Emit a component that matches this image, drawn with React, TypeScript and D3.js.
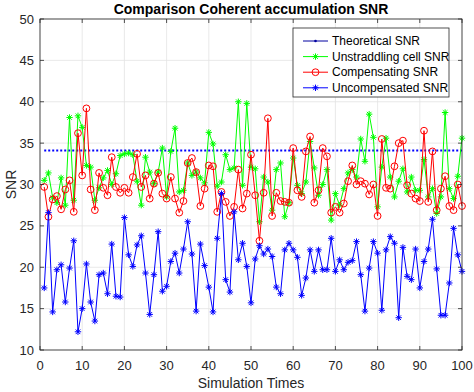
import React from 'react';
import * as d3 from 'd3';

const simulationTimes = d3.range(1, 101);
const theoreticalLevel = 34.1;
const unstraddlingSNR = [
  30.5, 31.4, 28.4, 27.8, 30.8, 27.5, 38.1, 28.1, 38.3, 36.9,
  32.3, 32.1, 28.1, 29.6, 30.8, 31.7, 30.0, 31.3, 33.5, 33.7,
  33.8, 33.6, 30.4, 27.5, 33.3, 31.5, 30.1, 31.5, 34.4, 28.5,
  34.0, 36.8, 29.1, 29.3, 32.6, 31.1, 31.5, 30.8, 30.2, 36.3,
  34.9, 29.8, 30.3, 33.6, 31.8, 32.0, 40.0, 29.9, 39.8, 32.1,
  31.9, 25.5, 30.9, 30.3, 26.9, 31.8, 32.6, 26.1, 27.8, 33.2,
  29.9, 28.9, 30.3, 35.2, 32.0, 28.7, 30.0, 31.8, 25.7, 28.9,
  27.5, 29.5, 31.4, 31.8, 30.9, 35.5, 32.8, 38.5, 35.7, 27.3,
  32.1, 35.6, 30.9, 28.5, 30.4, 31.9, 29.1, 30.9, 29.3, 29.3,
  33.0, 28.5, 29.5, 26.5, 28.5, 38.7, 29.5, 28.3, 31.0, 35.6,
];
const compensatingSNR = [
  29.7, 26.1, 28.2, 28.6, 27.0, 29.4, 30.5, 26.7, 36.2, 31.1,
  39.2, 29.4, 26.9, 31.4, 29.6, 28.7, 33.3, 29.7, 29.0, 29.6,
  29.0, 30.9, 33.7, 29.7, 31.1, 28.3, 30.1, 31.4, 28.9, 28.3,
  30.9, 28.3, 26.6, 28.0, 32.6, 33.2, 31.5, 27.4, 29.5, 32.3,
  32.2, 26.7, 29.1, 27.9, 26.2, 27.3, 31.8, 27.1, 28.9, 33.6,
  28.7, 23.2, 29.0, 38.0, 26.2, 29.0, 28.0, 27.9, 27.8, 34.4,
  29.3, 28.5, 34.0, 35.8, 27.8, 29.3, 34.4, 33.4, 26.6, 27.3,
  26.6, 27.7, 30.4, 32.3, 30.0, 30.4, 30.1, 28.8, 30.0, 26.2,
  35.5, 29.6, 29.5, 32.2, 35.0, 35.3, 29.9, 28.9, 28.3, 28.0,
  36.5, 27.9, 34.0, 26.9, 29.5, 31.0, 27.4, 26.9, 30.0, 27.4,
];
const uncompensatedSNR = [
  17.5, 26.6, 14.6, 19.7, 20.3, 15.8, 19.9, 23.2, 12.2, 15.0,
  20.4, 15.8, 13.5, 19.1, 19.3, 16.8, 22.8, 16.5, 16.4, 26.0,
  21.5, 20.1, 22.7, 23.8, 19.3, 14.3, 19.1, 24.3, 17.1, 17.7,
  20.7, 21.7, 19.3, 22.2, 25.5, 21.6, 14.7, 22.8, 20.2, 17.6,
  14.6, 23.5, 28.9, 18.5, 17.0, 26.7, 20.9, 22.9, 20.1, 15.7,
  21.0, 22.6, 21.6, 22.2, 21.3, 17.6, 16.8, 22.1, 22.9, 22.1,
  21.2, 16.6, 18.7, 22.1, 19.5, 22.1, 19.7, 19.7, 23.5, 19.5,
  20.9, 19.7, 20.6, 20.8, 23.1, 19.1, 14.7, 19.9, 23.1, 21.7,
  14.8, 22.1, 23.7, 22.9, 13.9, 22.4, 18.9, 18.5, 22.2, 17.5,
  20.7, 22.2, 25.8, 19.8, 14.2, 14.2, 18.1, 24.7, 21.5, 19.5,
];
const theoreticalSNR = simulationTimes.map(() => theoreticalLevel);
const xTicks = [0, 10, 20, 30, 40, 50, 60, 70, 80, 90, 100];
const yTicks = [10, 15, 20, 25, 30, 35, 40, 45, 50];
const legendLabels = ['Theoretical SNR', 'Unstraddling cell SNR', 'Compensating SNR', 'Uncompensated SNR'];

const GREEN = '#00ff00';
const RED = '#ff0000';
const BLUE = '#0000ff';
const AXIS = '#262626';
const FONT = 'Arial, "Liberation Sans", Helvetica, sans-serif';

function asterisk(cx: number, cy: number, r: number) {
  const d = r * 0.72;
  return `M${cx - r},${cy}h${2 * r}M${cx},${cy - r}v${2 * r}M${cx - d},${cy - d}l${2 * d},${2 * d}M${cx - d},${cy + d}l${2 * d},${-2 * d}`;
}

export default function App() {
  const W = 474, H = 392;
  const L = 40, R = 462, T = 19, B = 350;
  const x = d3.scaleLinear().domain([0, 100]).range([L, R]);
  const y = d3.scaleLinear().domain([10, 50]).range([B, T]);
  const line = d3.line<number>().x((_, i) => x(simulationTimes[i])).y((d) => y(d));

  const legendX = 293, legendY = 28, legendW = 156, legendH = 69;
  const rowY = (k: number) => 41 + k * 15.6;

  return (
    <svg width={W} height={H} style={{ position: 'absolute', left: 0, top: 0, background: '#fff' }} fontFamily={FONT}>
      <rect x={0} y={0} width={W} height={H} fill="#fff" />
      {/* grid */}
      {xTicks.map((t) => (
        <line key={'gx' + t} x1={x(t)} x2={x(t)} y1={T} y2={B} stroke="#e3e3e3" strokeWidth={0.8} />
      ))}
      {yTicks.map((t) => (
        <line key={'gy' + t} x1={L} x2={R} y1={y(t)} y2={y(t)} stroke="#e3e3e3" strokeWidth={0.8} />
      ))}
      {/* series */}
      <path d={line(theoreticalSNR) || ''} fill="none" stroke={BLUE} strokeWidth={2} strokeDasharray="2,2" />
      <path d={line(unstraddlingSNR) || ''} fill="none" stroke={GREEN} strokeWidth={1} />
      {unstraddlingSNR.map((v, i) => (
        <path key={'g' + i} d={asterisk(x(simulationTimes[i]), y(v), 3.2)} stroke={GREEN} strokeWidth={1} fill="none" />
      ))}
      <path d={line(compensatingSNR) || ''} fill="none" stroke={RED} strokeWidth={1} />
      {compensatingSNR.map((v, i) => (
        <circle key={'r' + i} cx={x(simulationTimes[i])} cy={y(v)} r={3.4} stroke={RED} strokeWidth={1} fill="none" />
      ))}
      <path d={line(uncompensatedSNR) || ''} fill="none" stroke={BLUE} strokeWidth={1} />
      {uncompensatedSNR.map((v, i) => (
        <path key={'b' + i} d={asterisk(x(simulationTimes[i]), y(v), 3.2)} stroke={BLUE} strokeWidth={1} fill="none" />
      ))}
      {/* axes box */}
      <rect x={L} y={T} width={R - L} height={B - T} fill="none" stroke={AXIS} strokeWidth={0.8} />
      {xTicks.map((t) => (
        <g key={'tx' + t}>
          <line x1={x(t)} x2={x(t)} y1={B} y2={B - 4} stroke={AXIS} strokeWidth={0.8} />
          <line x1={x(t)} x2={x(t)} y1={T} y2={T + 4} stroke={AXIS} strokeWidth={0.8} />
          <text x={x(t)} y={370} fontSize={13} textAnchor="middle" fill={AXIS}>{t}</text>
        </g>
      ))}
      {yTicks.map((t) => (
        <g key={'ty' + t}>
          <line x1={L} x2={L + 4} y1={y(t)} y2={y(t)} stroke={AXIS} strokeWidth={0.8} />
          <line x1={R} x2={R - 4} y1={y(t)} y2={y(t)} stroke={AXIS} strokeWidth={0.8} />
          <text x={34} y={y(t) + 4.6} fontSize={13} textAnchor="end" fill={AXIS}>{t}</text>
        </g>
      ))}
      <text x={(L + R) / 2} y={14} fontSize={14} fontWeight="bold" textAnchor="middle" fill="#000">
        Comparison Coherent accumulation SNR
      </text>
      <text x={(L + R) / 2} y={388} fontSize={14} textAnchor="middle" fill={AXIS}>Simulation Times</text>
      <text transform={`translate(16,${(T + B) / 2}) rotate(-90)`} fontSize={14} textAnchor="middle" fill={AXIS}>SNR</text>
      {/* legend */}
      <rect x={legendX} y={legendY} width={legendW} height={legendH} fill="#fff" stroke={AXIS} strokeWidth={0.8} />
      {legendLabels.map((lab, k) => {
        const cy = rowY(k);
        const color = k === 0 ? '#0000a0' : k === 1 ? GREEN : k === 2 ? RED : BLUE;
        return (
          <g key={'lg' + k}>
            <line x1={303} x2={328} y1={cy} y2={cy} stroke={color} strokeWidth={1} />
            {k === 0 && <circle cx={315.5} cy={cy} r={1.3} fill={color} />}
            {(k === 1 || k === 3) && <path d={asterisk(315.5, cy, 3.2)} stroke={color} strokeWidth={1} fill="none" />}
            {k === 2 && <circle cx={315.5} cy={cy} r={3.4} stroke={color} strokeWidth={1} fill="none" />}
            <text x={332} y={cy + 4.2} fontSize={12} fill="#000">{lab}</text>
          </g>
        );
      })}
    </svg>
  );
}
